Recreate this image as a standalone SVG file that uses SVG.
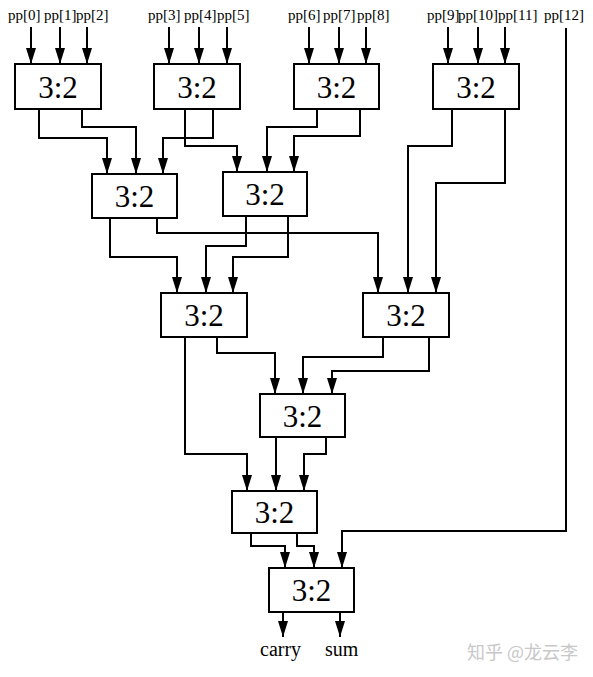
<svg xmlns="http://www.w3.org/2000/svg" width="593" height="677" viewBox="0 0 593 677">
<style>
.box rect{fill:#fff;stroke:#000;stroke-width:2}
.box text{font-family:"Liberation Serif","Times New Roman",serif;font-size:31px;text-anchor:middle;fill:#000}
.lbl{font-family:"Liberation Serif","Times New Roman",serif;font-size:15px;fill:#000}
.out{font-family:"Liberation Serif","Times New Roman",serif;font-size:20px;fill:#000}
#connectors path{fill:none;stroke:#000;stroke-width:2}
.arr{marker-end:url(#ah)}
</style>
<defs>
<marker id="ah" viewBox="0 -5 16 10" refX="16" refY="0" markerWidth="16" markerHeight="10" markerUnits="userSpaceOnUse" orient="auto">
<path d="M0,-5 L16,0 L0,5 z" fill="#000"/>
</marker>
</defs>
<rect width="593" height="677" fill="#fff"/>
<g id="labels">
<text class="lbl" x="8" y="20">pp[0]</text>
<text class="lbl" x="44" y="20">pp[1]</text>
<text class="lbl" x="76" y="20">pp[2]</text>
<text class="lbl" x="148" y="20">pp[3]</text>
<text class="lbl" x="184" y="20">pp[4]</text>
<text class="lbl" x="217" y="20">pp[5]</text>
<text class="lbl" x="288" y="20">pp[6]</text>
<text class="lbl" x="323" y="20">pp[7]</text>
<text class="lbl" x="357" y="20">pp[8]</text>
<text class="lbl" x="427" y="20">pp[9]</text>
<text class="lbl" x="458" y="20">pp[10]</text>
<text class="lbl" x="498" y="20">pp[11]</text>
<text class="lbl" x="544" y="20">pp[12]</text>
<text class="out" x="260" y="656">carry</text>
<text class="out" x="325" y="656">sum</text>
<text x="467" y="659" font-family="'Noto Sans CJK SC',sans-serif" font-size="18" fill="#c8c8c8">知乎 @龙云李</text>
</g>
<g id="connectors">
<path class="arr" d="M31,27 V64"/>
<path class="arr" d="M60,27 V64"/>
<path class="arr" d="M87,27 V64"/>
<path class="arr" d="M169,27 V64"/>
<path class="arr" d="M199,27 V64"/>
<path class="arr" d="M227,27 V64"/>
<path class="arr" d="M309,27 V64"/>
<path class="arr" d="M339,27 V64"/>
<path class="arr" d="M366,27 V64"/>
<path class="arr" d="M448,27 V64"/>
<path class="arr" d="M478,27 V64"/>
<path class="arr" d="M505,27 V64"/>
<path class="arr" d="M39,109 V138 H107 V174"/>
<path class="arr" d="M82,109 V127 H136 V174"/>
<path class="arr" d="M185,109 V146 H237 V172"/>
<path class="arr" d="M213,109 V138 H163 V174"/>
<path class="arr" d="M317,109 V127 H267 V172"/>
<path class="arr" d="M360,109 V136 H294 V172"/>
<path class="arr" d="M452,109 V146 H408 V293"/>
<path class="arr" d="M505,109 V183 H436 V293"/>
<path class="arr" d="M110,218 V257 H177 V293"/>
<path class="arr" d="M157,218 V233 H378 V293"/>
<path class="arr" d="M246,216 V246 H206 V293"/>
<path class="arr" d="M288,216 V257 H233 V293"/>
<path class="arr" d="M185,337 V454 H247 V491"/>
<path class="arr" d="M217,337 V353 H275 V394"/>
<path class="arr" d="M383,337 V357 H303 V394"/>
<path class="arr" d="M429,337 V371 H332 V394"/>
<path class="arr" d="M276,437 V491"/>
<path class="arr" d="M326,437 V454 H304 V491"/>
<path class="arr" d="M251,533 V546 H285 V568"/>
<path class="arr" d="M297,533 V546 H314 V568"/>
<path class="arr" d="M566,28 V531 H342 V568"/>
<path class="arr" d="M283,612 V637"/>
<path class="arr" d="M340,612 V637"/>
</g>
<g id="csa1" class="box"><rect x="15" y="64" width="86" height="45"/><text x="58" y="98">3:2</text></g>
<g id="csa2" class="box"><rect x="154" y="64" width="86" height="45"/><text x="197" y="98">3:2</text></g>
<g id="csa3" class="box"><rect x="294" y="64" width="85" height="45"/><text x="336.5" y="98">3:2</text></g>
<g id="csa4" class="box"><rect x="433" y="64" width="86" height="45"/><text x="476" y="98">3:2</text></g>
<g id="csa5" class="box"><rect x="92" y="174" width="85" height="44"/><text x="134.5" y="207">3:2</text></g>
<g id="csa6" class="box"><rect x="223" y="172" width="84" height="44"/><text x="265" y="205">3:2</text></g>
<g id="csa7" class="box"><rect x="161" y="293" width="86" height="44"/><text x="204" y="326">3:2</text></g>
<g id="csa8" class="box"><rect x="363" y="293" width="86" height="44"/><text x="406" y="326">3:2</text></g>
<g id="csa9" class="box"><rect x="260" y="394" width="85" height="43"/><text x="302.5" y="426.5">3:2</text></g>
<g id="csa10" class="box"><rect x="232" y="491" width="85" height="42"/><text x="274.5" y="523">3:2</text></g>
<g id="csa11" class="box"><rect x="269" y="568" width="85" height="44"/><text x="311.5" y="601">3:2</text></g>
</svg>
